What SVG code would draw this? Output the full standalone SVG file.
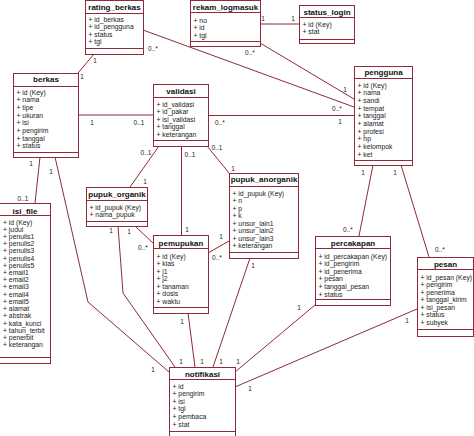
<svg xmlns="http://www.w3.org/2000/svg" width="474" height="436" viewBox="0 0 474 436">
<style>
.box{fill:#fff;stroke:#8e2a3a;stroke-width:1}
.sep{stroke:#8e2a3a;stroke-width:1}
.c{fill:none;stroke:#8e2a3a;stroke-width:1}
.t{font-family:"Liberation Sans",Arial,sans-serif;font-size:8px;font-weight:bold;fill:#111;text-anchor:middle}
.a{font-family:"Liberation Sans",Arial,sans-serif;font-size:6.8px;fill:#222}
.l{font-family:"Liberation Sans",Arial,sans-serif;font-size:6.5px;fill:#222;text-anchor:middle}
</style>
<rect width="474" height="436" fill="#fff"/>
<g id="connectors">
<path class="c" d="M94,54 L78,73"/>
<path class="c" d="M143,30 L354,107"/>
<path class="c" d="M260,24 L299.5,24"/>
<path class="c" d="M260,43 L354,99"/>
<path class="c" d="M78,115 L153,115"/>
<path class="c" d="M208,115.5 L354,115.5"/>
<path class="c" d="M40,157 L35,203"/>
<path class="c" d="M55,157 L88,302 L169,372"/>
<path class="c" d="M159,146 L130,187"/>
<path class="c" d="M181.5,146 L181.5,235"/>
<path class="c" d="M207,146 L229,173"/>
<path class="c" d="M135,226 L153,243"/>
<path class="c" d="M118,226 L123,293 L175,367"/>
<path class="c" d="M229,241 L208,253"/>
<path class="c" d="M188,313 L195,367"/>
<path class="c" d="M250,258 L213,367"/>
<path class="c" d="M315,305 L235,372"/>
<path class="c" d="M417,309 L235,387"/>
<path class="c" d="M373,165 L359,236"/>
<path class="c" d="M401,165 L429,257"/>
<text class="l" x="95" y="63.3">1</text>
<text class="l" x="82" y="79.3">1</text>
<text class="l" x="153" y="51.3">0..*</text>
<text class="l" x="263" y="21.3">1</text>
<text class="l" x="293" y="21.3">1</text>
<text class="l" x="250" y="55.3">0..*</text>
<text class="l" x="345" y="92.3">1</text>
<text class="l" x="337" y="111.3">0..*</text>
<text class="l" x="340" y="124.3">1</text>
<text class="l" x="92" y="125.3">1</text>
<text class="l" x="139" y="125.3">0..1</text>
<text class="l" x="220" y="125.3">0..*</text>
<text class="l" x="31" y="166.3">1</text>
<text class="l" x="23" y="201.3">0..1</text>
<text class="l" x="51" y="174.3">1</text>
<text class="l" x="153" y="372.3">1</text>
<text class="l" x="146" y="155.3">0..1</text>
<text class="l" x="145" y="184.3">1</text>
<text class="l" x="190" y="157.3">0..1</text>
<text class="l" x="187" y="232.3">1</text>
<text class="l" x="217" y="150.3">0..1</text>
<text class="l" x="233" y="171.3">1</text>
<text class="l" x="129" y="234.3">1</text>
<text class="l" x="143" y="250.3">0..*</text>
<text class="l" x="111" y="233.3">1</text>
<text class="l" x="181" y="364.3">1</text>
<text class="l" x="221" y="239.3">1</text>
<text class="l" x="217" y="260.3">0..*</text>
<text class="l" x="182" y="324.3">1</text>
<text class="l" x="202" y="364.3">1</text>
<text class="l" x="253" y="268.3">1</text>
<text class="l" x="221" y="364.3">1</text>
<text class="l" x="299" y="310.3">1</text>
<text class="l" x="238" y="364.3">1</text>
<text class="l" x="407" y="323.3">1</text>
<text class="l" x="250" y="391.3">1</text>
<text class="l" x="363" y="175.3">1</text>
<text class="l" x="348" y="232.3">0..*</text>
<text class="l" x="395" y="175.3">1</text>
<text class="l" x="440" y="252.3">0..*</text>
</g>
<g id="rating_berkas">
<rect class="box" x="85.5" y="0.5" width="58" height="54"/>
<path class="sep" d="M85.5,13.5 H143.5 M85.5,48.5 H143.5"/>
<text class="t" x="114.5" y="9.8">rating_berkas</text>
<text class="a" y="21.5"><tspan x="88.5">+ id_berkas</tspan><tspan x="88.5" dy="7.6">+ id_pengguna</tspan><tspan x="88.5" dy="7.6">+ status</tspan><tspan x="88.5" dy="7.6">+ tgl</tspan></text>
</g>
<g id="rekam_logmasuk">
<rect class="box" x="190.5" y="0.5" width="70" height="46"/>
<path class="sep" d="M190.5,12.5 H260.5 M190.5,41.5 H260.5"/>
<text class="t" x="225.5" y="9.5">rekam_logmasuk</text>
<text class="a" y="22.5"><tspan x="193.5">+ no</tspan><tspan x="193.5" dy="7.5">+ id</tspan><tspan x="193.5" dy="7.5">+ tgl</tspan></text>
</g>
<g id="status_login">
<rect class="box" x="299.5" y="5.5" width="55" height="38"/>
<path class="sep" d="M299.5,17.5 H354.5 M299.5,39.5 H354.5"/>
<text class="t" x="327" y="14.5">status_login</text>
<text class="a" y="26.5"><tspan x="302.5">+ id (Key)</tspan><tspan x="302.5" dy="7.7">+ stat</tspan></text>
</g>
<g id="berkas">
<rect class="box" x="13.5" y="73.5" width="65" height="84"/>
<path class="sep" d="M13.5,86.5 H78.5 M13.5,152.5 H78.5"/>
<text class="t" x="46" y="81.8">berkas</text>
<text class="a" y="94.5"><tspan x="16.5">+ id (Key)</tspan><tspan x="16.5" dy="7.7">+ nama</tspan><tspan x="16.5" dy="7.7">+ tipe</tspan><tspan x="16.5" dy="7.7">+ ukuran</tspan><tspan x="16.5" dy="7.7">+ isi</tspan><tspan x="16.5" dy="7.7">+ pengirim</tspan><tspan x="16.5" dy="7.7">+ tanggal</tspan><tspan x="16.5" dy="7.7">+ status</tspan></text>
</g>
<g id="validasi">
<rect class="box" x="153.5" y="84.5" width="55" height="62"/>
<path class="sep" d="M153.5,97.5 H208.5 M153.5,140.5 H208.5"/>
<text class="t" x="181" y="93.8">validasi</text>
<text class="a" y="106.5"><tspan x="156.5">+ id_validasi</tspan><tspan x="156.5" dy="7.5">+ id_pakar</tspan><tspan x="156.5" dy="7.5">+ isi_validasi</tspan><tspan x="156.5" dy="7.5">+ tanggal</tspan><tspan x="156.5" dy="7.5">+ keterangan</tspan></text>
</g>
<g id="pengguna">
<rect class="box" x="354.5" y="66.5" width="58" height="99"/>
<path class="sep" d="M354.5,78.5 H412.5 M354.5,160.5 H412.5"/>
<text class="t" x="383.5" y="74.8">pengguna</text>
<text class="a" y="87.5"><tspan x="357.5">+ id (Key)</tspan><tspan x="357.5" dy="7.67">+ nama</tspan><tspan x="357.5" dy="7.67">+ sandi</tspan><tspan x="357.5" dy="7.67">+ tempat</tspan><tspan x="357.5" dy="7.67">+ tanggal</tspan><tspan x="357.5" dy="7.67">+ alamat</tspan><tspan x="357.5" dy="7.67">+ profesi</tspan><tspan x="357.5" dy="7.67">+ hp</tspan><tspan x="357.5" dy="7.67">+ kelompok</tspan><tspan x="357.5" dy="7.67">+ ket</tspan></text>
</g>
<g id="isi_file">
<rect class="box" x="-0.5" y="203.5" width="51" height="160"/>
<path class="sep" d="M-0.5,215.5 H50.5 M-0.5,357.5 H50.5"/>
<text class="t" x="25" y="213.8">isi_file</text>
<text class="a" y="224.5"><tspan x="3">+ id (Key)</tspan><tspan x="3" dy="7.22">+ judul</tspan><tspan x="3" dy="7.22">+ penulis1</tspan><tspan x="3" dy="7.22">+ penulis2</tspan><tspan x="3" dy="7.22">+ penulis3</tspan><tspan x="3" dy="7.22">+ penulis4</tspan><tspan x="3" dy="7.22">+ penulis5</tspan><tspan x="3" dy="7.22">+ email1</tspan><tspan x="3" dy="7.22">+ email2</tspan><tspan x="3" dy="7.22">+ email3</tspan><tspan x="3" dy="7.22">+ email4</tspan><tspan x="3" dy="7.22">+ email5</tspan><tspan x="3" dy="7.22">+ alamat</tspan><tspan x="3" dy="7.22">+ abstrak</tspan><tspan x="3" dy="7.22">+ kata_kunci</tspan><tspan x="3" dy="7.22">+ tahun_terbit</tspan><tspan x="3" dy="7.22">+ penerbit</tspan><tspan x="3" dy="7.22">+ keterangan</tspan></text>
</g>
<g id="pupuk_organik">
<rect class="box" x="86.5" y="187.5" width="61" height="39"/>
<path class="sep" d="M86.5,200.5 H147.5 M86.5,221.5 H147.5"/>
<text class="t" x="117" y="196.8">pupuk_organik</text>
<text class="a" y="209.5"><tspan x="89.5">+ id_pupuk (Key)</tspan><tspan x="89.5" dy="7.3">+ nama_pupuk</tspan></text>
</g>
<g id="pupuk_anorganik">
<rect class="box" x="229.5" y="173.5" width="69" height="85"/>
<path class="sep" d="M229.5,186.5 H298.5 M229.5,252.5 H298.5"/>
<text class="t" x="264" y="181.8">pupuk_anorganik</text>
<text class="a" y="195.5"><tspan x="232.5">+ id_pupuk (Key)</tspan><tspan x="232.5" dy="7.57">+ n</tspan><tspan x="232.5" dy="7.57">+ p</tspan><tspan x="232.5" dy="7.57">+ k</tspan><tspan x="232.5" dy="7.57">+ unsur_lain1</tspan><tspan x="232.5" dy="7.57">+ unsur_lain2</tspan><tspan x="232.5" dy="7.57">+ unsur_lain3</tspan><tspan x="232.5" dy="7.57">+ keterangan</tspan></text>
</g>
<g id="pemupukan">
<rect class="box" x="153.5" y="235.5" width="55" height="78"/>
<path class="sep" d="M153.5,248.5 H208.5 M153.5,307.5 H208.5"/>
<text class="t" x="181" y="245.8">pemupukan</text>
<text class="a" y="258.5"><tspan x="156.5">+ id (Key)</tspan><tspan x="156.5" dy="7.5">+ klas</tspan><tspan x="156.5" dy="7.5">+ j1</tspan><tspan x="156.5" dy="7.5">+ j2</tspan><tspan x="156.5" dy="7.5">+ tanaman</tspan><tspan x="156.5" dy="7.5">+ dosis</tspan><tspan x="156.5" dy="7.5">+ waktu</tspan></text>
</g>
<g id="percakapan">
<rect class="box" x="315.5" y="236.5" width="75" height="69"/>
<path class="sep" d="M315.5,248.5 H390.5 M315.5,299.5 H390.5"/>
<text class="t" x="353" y="245.8">percakapan</text>
<text class="a" y="258.5"><tspan x="318.5">+ id_percakapan (Key)</tspan><tspan x="318.5" dy="7.6">+ id_pengirim</tspan><tspan x="318.5" dy="7.6">+ id_penerima</tspan><tspan x="318.5" dy="7.6">+ pesan</tspan><tspan x="318.5" dy="7.6">+ tanggal_pesan</tspan><tspan x="318.5" dy="7.6">+ status</tspan></text>
</g>
<g id="pesan">
<rect class="box" x="417.5" y="257.5" width="56" height="79"/>
<path class="sep" d="M417.5,269.5 H473.5 M417.5,329.5 H473.5"/>
<text class="t" x="445.5" y="266.8">pesan</text>
<text class="a" y="279.5"><tspan x="420.5">+ id_pesan (Key)</tspan><tspan x="420.5" dy="7.5">+ pengirim</tspan><tspan x="420.5" dy="7.5">+ penerima</tspan><tspan x="420.5" dy="7.5">+ tanggal_kirim</tspan><tspan x="420.5" dy="7.5">+ isi_pesan</tspan><tspan x="420.5" dy="7.5">+ status</tspan><tspan x="420.5" dy="7.5">+ subyek</tspan></text>
</g>
<g id="notifikasi">
<rect class="box" x="169.5" y="367.5" width="66" height="74"/>
<path class="sep" d="M169.5,379.5 H235.5 M169.5,431.5 H235.5"/>
<text class="t" x="202.5" y="376.8">notifikasi</text>
<text class="a" y="388.5"><tspan x="172.5">+ id</tspan><tspan x="172.5" dy="7.6">+ pengirim</tspan><tspan x="172.5" dy="7.6">+ isi</tspan><tspan x="172.5" dy="7.6">+ tgl</tspan><tspan x="172.5" dy="7.6">+ pembaca</tspan><tspan x="172.5" dy="7.6">+ stat</tspan></text>
</g>
</svg>
